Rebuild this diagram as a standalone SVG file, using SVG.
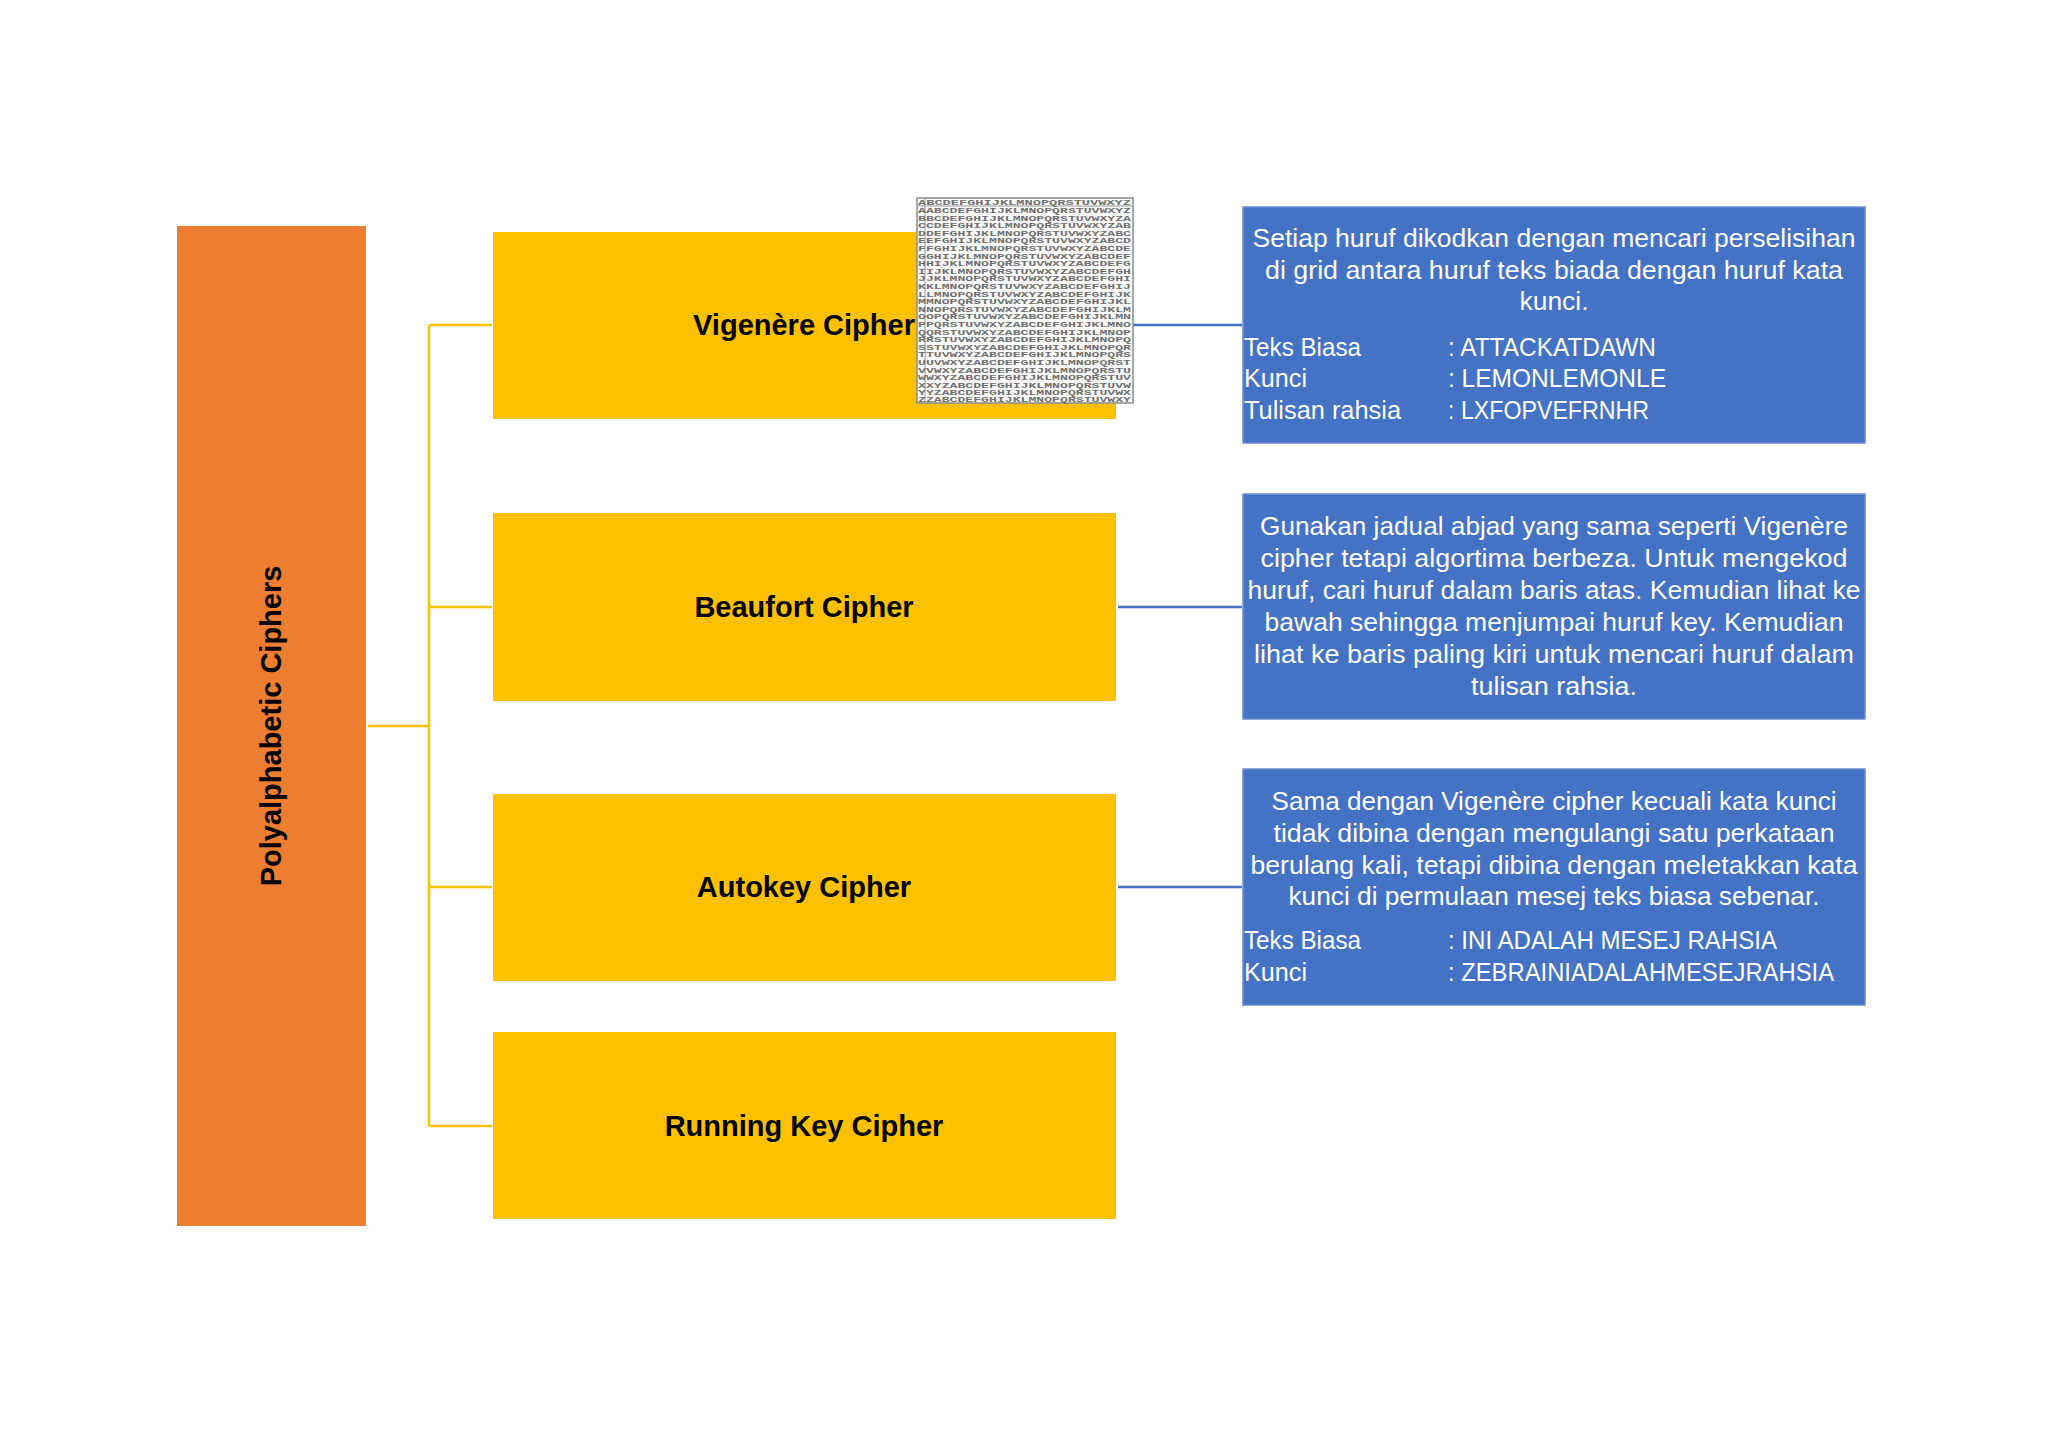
<svg xmlns="http://www.w3.org/2000/svg" width="2048" height="1448" viewBox="0 0 2048 1448">
<defs>
<style>
.orange{fill:#ED7D31;}
.yellow{fill:#FFC000;}
.blue{fill:#4472C4;stroke:#6A8DD2;stroke-width:1.5;}
.ylab{font-family:"Liberation Sans",Arial,sans-serif;font-weight:bold;font-size:29px;fill:#000;text-anchor:middle;}
.btxt{font-family:"Liberation Sans",Arial,sans-serif;font-size:25.5px;fill:#fff;}
.c{text-anchor:middle;}
.yl{fill:none;stroke:#FFC000;stroke-width:2.5;}
.bl{fill:none;stroke:#4472C4;stroke-width:2.5;}
.tab{font-family:"Liberation Mono",monospace;font-size:8px;font-weight:bold;fill:#707070;}
</style>
</defs>
<rect width="2048" height="1448" fill="#ffffff"/>

<g id="connectors">
<path class="yl" d="M368 726 H429"/>
<path class="yl" d="M429 325 V1126"/>
<path class="yl" d="M429 325 H492"/>
<path class="yl" d="M429 607 H492"/>
<path class="yl" d="M429 887 H492"/>
<path class="yl" d="M429 1126 H492"/>
<path class="bl" d="M1133 325 H1242"/>
<path class="bl" d="M1118 607 H1242"/>
<path class="bl" d="M1118 887 H1242"/>
</g>

<g id="root">
<rect class="orange" x="177" y="226" width="189" height="1000"/>
<text class="ylab" transform="translate(281,726) rotate(-90)" x="0" y="0">Polyalphabetic Ciphers</text>
</g>

<g id="vigenere">
<rect class="yellow" x="493" y="232" width="623" height="187"/>
<text class="ylab" x="804" y="335">Vigenère Cipher</text>
</g>

<g id="vigenere-table">
<rect x="917" y="198" width="216" height="205" fill="#fbfbfb" stroke="#8a8a8a" stroke-width="1.5"/>
<line x1="917" y1="206" x2="1133" y2="206" stroke="#999" stroke-width="1"/>
<line x1="925" y1="198" x2="925" y2="403" stroke="#999" stroke-width="1"/>
<text class="tab" x="918" textLength="213" lengthAdjust="spacingAndGlyphs" y="205"> ABCDEFGHIJKLMNOPQRSTUVWXYZ</text>
<text class="tab" x="918" textLength="213" lengthAdjust="spacingAndGlyphs" y="213">AABCDEFGHIJKLMNOPQRSTUVWXYZ</text>
<text class="tab" x="918" textLength="213" lengthAdjust="spacingAndGlyphs" y="220.6">BBCDEFGHIJKLMNOPQRSTUVWXYZA</text>
<text class="tab" x="918" textLength="213" lengthAdjust="spacingAndGlyphs" y="228.2">CCDEFGHIJKLMNOPQRSTUVWXYZAB</text>
<text class="tab" x="918" textLength="213" lengthAdjust="spacingAndGlyphs" y="235.8">DDEFGHIJKLMNOPQRSTUVWXYZABC</text>
<text class="tab" x="918" textLength="213" lengthAdjust="spacingAndGlyphs" y="243.4">EEFGHIJKLMNOPQRSTUVWXYZABCD</text>
<text class="tab" x="918" textLength="213" lengthAdjust="spacingAndGlyphs" y="251">FFGHIJKLMNOPQRSTUVWXYZABCDE</text>
<text class="tab" x="918" textLength="213" lengthAdjust="spacingAndGlyphs" y="258.6">GGHIJKLMNOPQRSTUVWXYZABCDEF</text>
<text class="tab" x="918" textLength="213" lengthAdjust="spacingAndGlyphs" y="266.2">HHIJKLMNOPQRSTUVWXYZABCDEFG</text>
<text class="tab" x="918" textLength="213" lengthAdjust="spacingAndGlyphs" y="273.8">IIJKLMNOPQRSTUVWXYZABCDEFGH</text>
<text class="tab" x="918" textLength="213" lengthAdjust="spacingAndGlyphs" y="281.4">JJKLMNOPQRSTUVWXYZABCDEFGHI</text>
<text class="tab" x="918" textLength="213" lengthAdjust="spacingAndGlyphs" y="289">KKLMNOPQRSTUVWXYZABCDEFGHIJ</text>
<text class="tab" x="918" textLength="213" lengthAdjust="spacingAndGlyphs" y="296.6">LLMNOPQRSTUVWXYZABCDEFGHIJK</text>
<text class="tab" x="918" textLength="213" lengthAdjust="spacingAndGlyphs" y="304.2">MMNOPQRSTUVWXYZABCDEFGHIJKL</text>
<text class="tab" x="918" textLength="213" lengthAdjust="spacingAndGlyphs" y="311.8">NNOPQRSTUVWXYZABCDEFGHIJKLM</text>
<text class="tab" x="918" textLength="213" lengthAdjust="spacingAndGlyphs" y="319.4">OOPQRSTUVWXYZABCDEFGHIJKLMN</text>
<text class="tab" x="918" textLength="213" lengthAdjust="spacingAndGlyphs" y="327">PPQRSTUVWXYZABCDEFGHIJKLMNO</text>
<text class="tab" x="918" textLength="213" lengthAdjust="spacingAndGlyphs" y="334.6">QQRSTUVWXYZABCDEFGHIJKLMNOP</text>
<text class="tab" x="918" textLength="213" lengthAdjust="spacingAndGlyphs" y="342.2">RRSTUVWXYZABCDEFGHIJKLMNOPQ</text>
<text class="tab" x="918" textLength="213" lengthAdjust="spacingAndGlyphs" y="349.8">SSTUVWXYZABCDEFGHIJKLMNOPQR</text>
<text class="tab" x="918" textLength="213" lengthAdjust="spacingAndGlyphs" y="357.4">TTUVWXYZABCDEFGHIJKLMNOPQRS</text>
<text class="tab" x="918" textLength="213" lengthAdjust="spacingAndGlyphs" y="365">UUVWXYZABCDEFGHIJKLMNOPQRST</text>
<text class="tab" x="918" textLength="213" lengthAdjust="spacingAndGlyphs" y="372.6">VVWXYZABCDEFGHIJKLMNOPQRSTU</text>
<text class="tab" x="918" textLength="213" lengthAdjust="spacingAndGlyphs" y="380.2">WWXYZABCDEFGHIJKLMNOPQRSTUV</text>
<text class="tab" x="918" textLength="213" lengthAdjust="spacingAndGlyphs" y="387.8">XXYZABCDEFGHIJKLMNOPQRSTUVW</text>
<text class="tab" x="918" textLength="213" lengthAdjust="spacingAndGlyphs" y="395.4">YYZABCDEFGHIJKLMNOPQRSTUVWX</text>
<text class="tab" x="918" textLength="213" lengthAdjust="spacingAndGlyphs" y="402">ZZABCDEFGHIJKLMNOPQRSTUVWXY</text>
</g>

<g id="beaufort">
<rect class="yellow" x="493" y="513" width="623" height="188"/>
<text class="ylab" x="804" y="617">Beaufort Cipher</text>
</g>

<g id="autokey">
<rect class="yellow" x="493" y="794" width="623" height="187"/>
<text class="ylab" x="804" y="897">Autokey Cipher</text>
</g>

<g id="runningkey">
<rect class="yellow" x="493" y="1032" width="623" height="187"/>
<text class="ylab" x="804" y="1136">Running Key Cipher</text>
</g>

<g id="vigenere-desc">
<rect class="blue" x="1243" y="207" width="622" height="236"/>
<text class="btxt c" x="1554" y="247" textLength="603" lengthAdjust="spacingAndGlyphs">Setiap huruf dikodkan dengan mencari perselisihan</text>
<text class="btxt c" x="1554" y="279" textLength="578" lengthAdjust="spacingAndGlyphs">di grid antara huruf teks biada dengan huruf kata</text>
<text class="btxt c" x="1554" y="310" textLength="69" lengthAdjust="spacingAndGlyphs">kunci.</text>
<text class="btxt" x="1244" y="356" textLength="117" lengthAdjust="spacingAndGlyphs">Teks Biasa</text>
<text class="btxt" x="1448" y="356" textLength="208" lengthAdjust="spacingAndGlyphs">: ATTACKATDAWN</text>
<text class="btxt" x="1244" y="387" textLength="63" lengthAdjust="spacingAndGlyphs">Kunci</text>
<text class="btxt" x="1448" y="387" textLength="218" lengthAdjust="spacingAndGlyphs">: LEMONLEMONLE</text>
<text class="btxt" x="1244" y="419" textLength="157" lengthAdjust="spacingAndGlyphs">Tulisan rahsia</text>
<text class="btxt" x="1448" y="419" textLength="201" lengthAdjust="spacingAndGlyphs">: LXFOPVEFRNHR</text>
</g>

<g id="beaufort-desc">
<rect class="blue" x="1243" y="494" width="622" height="225"/>
<text class="btxt c" x="1554" y="535" textLength="588" lengthAdjust="spacingAndGlyphs">Gunakan jadual abjad yang sama seperti Vigenère</text>
<text class="btxt c" x="1554" y="567" textLength="587" lengthAdjust="spacingAndGlyphs">cipher tetapi algortima berbeza. Untuk mengekod</text>
<text class="btxt c" x="1554" y="599" textLength="613" lengthAdjust="spacingAndGlyphs">huruf, cari huruf dalam baris atas. Kemudian lihat ke</text>
<text class="btxt c" x="1554" y="631" textLength="579" lengthAdjust="spacingAndGlyphs">bawah sehingga menjumpai huruf key. Kemudian</text>
<text class="btxt c" x="1554" y="663" textLength="600" lengthAdjust="spacingAndGlyphs">lihat ke baris paling kiri untuk mencari huruf dalam</text>
<text class="btxt c" x="1554" y="695" textLength="166" lengthAdjust="spacingAndGlyphs">tulisan rahsia.</text>
</g>

<g id="autokey-desc">
<rect class="blue" x="1243" y="769" width="622" height="236"/>
<text class="btxt c" x="1554" y="810" textLength="565" lengthAdjust="spacingAndGlyphs">Sama dengan Vigenère cipher kecuali kata kunci</text>
<text class="btxt c" x="1554" y="842" textLength="561" lengthAdjust="spacingAndGlyphs">tidak dibina dengan mengulangi satu perkataan</text>
<text class="btxt c" x="1554" y="874" textLength="607" lengthAdjust="spacingAndGlyphs">berulang kali, tetapi dibina dengan meletakkan kata</text>
<text class="btxt c" x="1554" y="905" textLength="531" lengthAdjust="spacingAndGlyphs">kunci di permulaan mesej teks biasa sebenar.</text>
<text class="btxt" x="1244" y="949" textLength="117" lengthAdjust="spacingAndGlyphs">Teks Biasa</text>
<text class="btxt" x="1448" y="949" textLength="329" lengthAdjust="spacingAndGlyphs">: INI ADALAH MESEJ RAHSIA</text>
<text class="btxt" x="1244" y="981" textLength="63" lengthAdjust="spacingAndGlyphs">Kunci</text>
<text class="btxt" x="1448" y="981" textLength="386" lengthAdjust="spacingAndGlyphs">: ZEBRAINIADALAHMESEJRAHSIA</text>
</g>
</svg>
